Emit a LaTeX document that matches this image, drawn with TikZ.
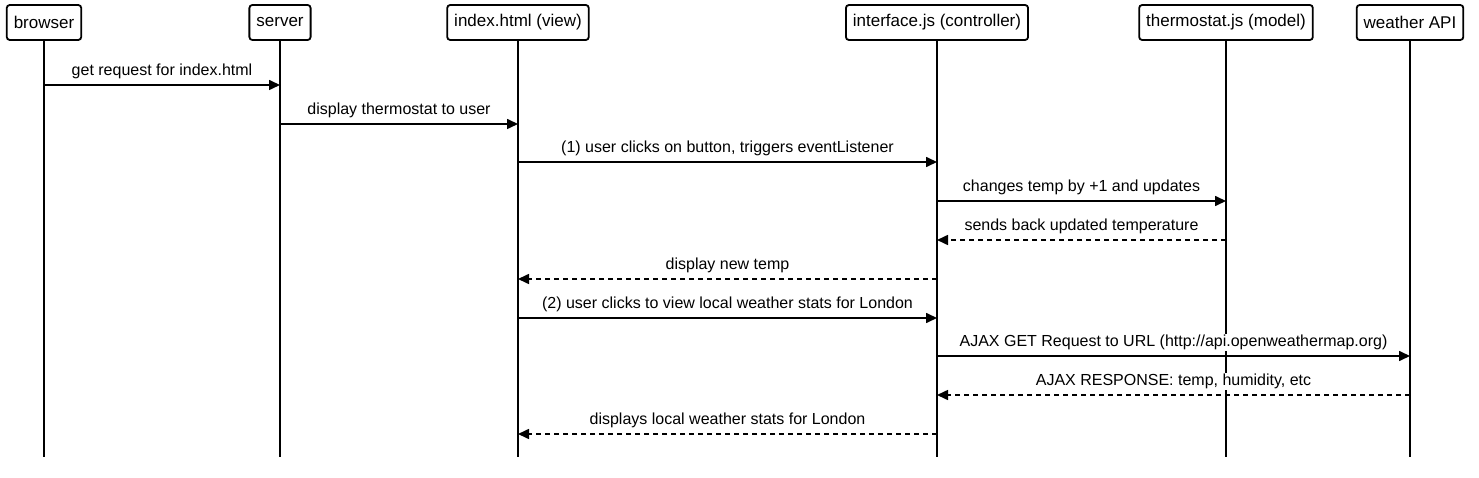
\documentclass[tikz,border=0pt]{standalone}
\usepackage{fontspec}
\setmainfont{Liberation Sans}
\usetikzlibrary{arrows.meta}
\begin{document}
\begin{tikzpicture}[x=1pt,y=-1pt,
  head/.style={draw,line width=1.8pt,rounded corners=3pt,minimum height=35pt,inner xsep=7pt,font=\fontsize{17}{19}\selectfont,fill=white},
  life/.style={line width=1.6pt},
  msg/.style={line width=1.6pt,-{Triangle[length=11pt,width=10pt]}},
  ret/.style={msg,dash pattern=on 5pt off 4pt},
  lab/.style={fill=white,inner sep=1pt,font=\fontsize{16}{18}\selectfont,above=4pt}]
\useasboundingbox (0,0) rectangle (1479,478);
\foreach \n/\x/\t in {b/44/browser,s/280/server,i/518/index.html (view),c/937/interface.js (controller),t/1226/thermostat.js (model),w/1410/weather API}{
  \coordinate (\n end) at (\x,457);
  \draw[life] (\x,22) -- (\n end);
  \node[head] (\n) at (\x,22.5) {\t};
}
\foreach \n/\x in {b/44,s/280,i/518,c/937,t/1226,w/1410}{
  \foreach \k/\y in {1/85,2/124,3/162,4/201,5/240,6/279,7/318,8/356,9/395,10/434}{
    \coordinate (\n\k) at (\x,\y);
  }
}
\draw[msg] (b1) -- node[lab]{get request for index.html} (s1);
\draw[msg] (s2) -- node[lab]{display thermostat to user} (i2);
\draw[msg] (i3) -- node[lab]{(1) user clicks on button, triggers eventListener} (c3);
\draw[msg] (c4) -- node[lab]{changes temp by +1 and updates} (t4);
\draw[ret] (t5) -- node[lab]{sends back updated temperature} (c5);
\draw[ret] (c6) -- node[lab]{display new temp} (i6);
\draw[msg] (i7) -- node[lab]{(2) user clicks to view local weather stats for London} (c7);
\draw[msg] (c8) -- node[lab]{AJAX GET Request to URL (http://api.openweathermap.org)} (w8);
\draw[ret] (w9) -- node[lab]{AJAX RESPONSE: temp, humidity, etc} (c9);
\draw[ret] (c10) -- node[lab]{displays local weather stats for London} (i10);
\end{tikzpicture}
\end{document}
